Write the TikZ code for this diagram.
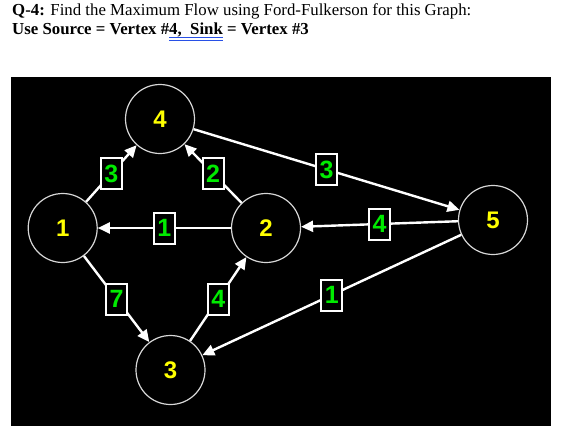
\documentclass[tikz,border=0pt]{standalone}
\usepackage{fontspec}
\setmainfont{Liberation Serif}
\newfontfamily\labfont{Liberation Sans}
\usetikzlibrary{arrows.meta}
\definecolor{FlowGreen}{RGB}{0,235,0}
\definecolor{VertYellow}{RGB}{255,255,0}
\definecolor{RingGray}{RGB}{215,215,215}
\definecolor{WordBlue}{RGB}{40,80,230}
\tikzset{
  vert/.style={circle,draw=RingGray,line width=1.2pt,fill=black,minimum size=69pt,inner sep=0pt,
    font=\labfont\bfseries\fontsize{24}{24}\selectfont,text=VertYellow},
  arc/.style={draw=white,line width=2.4pt,-{Triangle[length=12pt,width=11pt]}},
  capbox/.style={rectangle,draw=white,line width=2pt,fill=black,minimum width=21pt,minimum height=31pt,
    inner sep=0pt,font=\labfont\bfseries\fontsize{25}{25}\selectfont,text=FlowGreen},
}

\begin{document}
\begin{tikzpicture}[x=1pt,y=-1pt]
\useasboundingbox (0,0) rectangle (564,439);
\fill[white] (0,0) rectangle (564,439);
% question text
\node[anchor=base west,inner sep=0pt,font=\fontsize{16.8}{19}\selectfont] (q1) at (12,16)
  {\textbf{Q-4:} Find the Maximum Flow using Ford-Fulkerson for this Graph:};
\node[anchor=base west,inner sep=0pt,font=\fontsize{16.8}{19}\selectfont\bfseries] (q2) at (12,34.5)
  {Use Source = Vertex \#4,\ \ Sink = Vertex \#3};
\draw[WordBlue,line width=1pt] (169,37.6) -- (223,37.6) (169,40) -- (223,40);
% graph
\fill[black] (11,77) rectangle (551,426);
\node[vert] (v4) at (160,119) {4};
\node[vert] (v1) at (62.7,228) {1};
\node[vert] (v2) at (266,228) {2};
\node[vert] (v5) at (493,220) {5};
\node[vert] (v3) at (170.5,370) {3};
\draw[arc] (v1) -- node[capbox] {3} (v4);
\draw[arc] (v2) -- node[capbox] {2} (v4);
\draw[arc] (v4) -- node[capbox] {3} (v5);
\draw[arc] (v2) -- node[capbox] {1} (v1);
\draw[arc] (v5) -- node[capbox] {4} (v2);
\draw[arc] (v1) -- node[capbox] {7} (v3);
\draw[arc] (v3) -- node[capbox] {4} (v2);
\draw[arc] (v5) -- node[capbox] {1} (v3);
\end{tikzpicture}
\end{document}
